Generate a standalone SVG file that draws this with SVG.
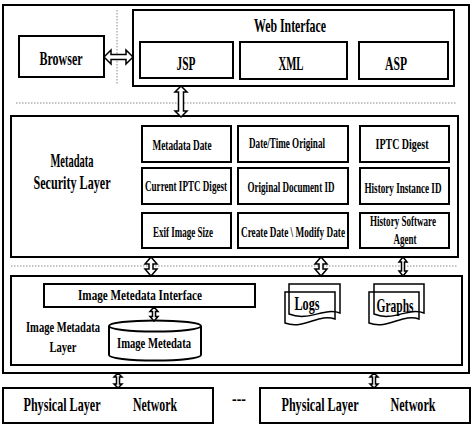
<svg xmlns="http://www.w3.org/2000/svg" width="474" height="431" viewBox="0 0 474 431">
<style>
.box{fill:none;stroke:#000;stroke-width:2}
.thin{fill:none;stroke:#000;stroke-width:1.5}
.dot{fill:none;stroke:#888;stroke-width:1;stroke-dasharray:1.5,1.5}
.arr{fill:#fff;stroke:#000;stroke-width:1.5;stroke-linejoin:miter}
text{font-family:"Liberation Serif","Times New Roman",serif;font-weight:bold;fill:#000;text-anchor:middle}
.big{font-size:18px}
.sm{font-size:15px}
</style>
<rect width="474" height="431" fill="#fff"/>
<g id="frame">
<rect class="box" x="3" y="5" width="466" height="368"/>
<line class="dot" x1="117" y1="10" x2="117" y2="85"/>
<line class="dot" x1="16" y1="103" x2="457" y2="103"/>
<line class="dot" x1="11" y1="266" x2="457" y2="266"/>
</g>
<g id="browser">
<rect class="box" x="19" y="36" width="85" height="41"/>
<text class="big" transform="translate(61,65) scale(0.65,1)" textLength="66.2" lengthAdjust="spacingAndGlyphs">Browser</text>
</g>
<g id="web-interface">
<rect class="box" x="133" y="10" width="321" height="76"/>
<text class="big" transform="translate(290,32) scale(0.65,1)" textLength="110.8" lengthAdjust="spacingAndGlyphs">Web Interface</text>
</g>
<g id="jsp">
<rect class="box" x="140" y="42" width="93" height="36"/>
<text class="big" transform="translate(186,70) scale(0.65,1)" textLength="29.2" lengthAdjust="spacingAndGlyphs">JSP</text>
</g>
<g id="xml">
<rect class="box" x="240" y="42" width="107" height="37"/>
<text class="big" transform="translate(291,70) scale(0.65,1)" textLength="38.5" lengthAdjust="spacingAndGlyphs">XML</text>
</g>
<g id="asp">
<rect class="box" x="359" y="42" width="89" height="37"/>
<text class="big" transform="translate(396,70) scale(0.65,1)" textLength="33.8" lengthAdjust="spacingAndGlyphs">ASP</text>
</g>
<g id="metadata-security-layer">
<rect class="box" x="11" y="116" width="447" height="141"/>
<text class="big" transform="translate(72,167) scale(0.65,1)" textLength="66.2" lengthAdjust="spacingAndGlyphs">Metadata</text>
<text class="big" transform="translate(72,189) scale(0.65,1)" textLength="118.5" lengthAdjust="spacingAndGlyphs">Security Layer</text>
</g>
<g id="metadata-date">
<rect class="box" x="142" y="126" width="89" height="36"/>
<text class="sm" transform="translate(182,150) scale(0.65,1)" textLength="90.8" lengthAdjust="spacingAndGlyphs">Metadata Date</text>
</g>
<g id="current-iptc-digest">
<rect class="box" x="142" y="168" width="89" height="36"/>
<text class="sm" transform="translate(186,191) scale(0.65,1)" textLength="126.2" lengthAdjust="spacingAndGlyphs">Current IPTC Digest</text>
</g>
<g id="exif-image-size">
<rect class="box" x="142" y="213" width="89" height="35"/>
<text class="sm" transform="translate(183,237) scale(0.65,1)" textLength="92.3" lengthAdjust="spacingAndGlyphs">Exif Image Size</text>
</g>
<g id="date-time-original">
<rect class="box" x="238" y="126" width="110" height="36"/>
<text class="sm" transform="translate(287,148) scale(0.65,1)" textLength="116.9" lengthAdjust="spacingAndGlyphs">Date/Time Original</text>
</g>
<g id="original-document-id">
<rect class="box" x="238" y="168" width="110" height="36"/>
<text class="sm" transform="translate(291,192) scale(0.65,1)" textLength="133.8" lengthAdjust="spacingAndGlyphs">Original Document ID</text>
</g>
<g id="create-modify-date">
<rect class="box" x="238" y="213" width="110" height="35"/>
<text class="sm" transform="translate(293,237) scale(0.65,1)" textLength="160" lengthAdjust="spacingAndGlyphs">Create Date \ Modify Date</text>
</g>
<g id="iptc-digest">
<rect class="box" x="360" y="126" width="89" height="36"/>
<text class="sm" transform="translate(402,149) scale(0.65,1)" textLength="81.5" lengthAdjust="spacingAndGlyphs">IPTC Digest</text>
</g>
<g id="history-instance-id">
<rect class="box" x="360" y="168" width="89" height="36"/>
<text class="sm" transform="translate(403,193) scale(0.65,1)" textLength="118.5" lengthAdjust="spacingAndGlyphs">History Instance ID</text>
</g>
<g id="history-software-agent">
<rect class="box" x="360" y="213" width="89" height="35"/>
<text class="sm" transform="translate(403,226) scale(0.65,1)" textLength="101.5" lengthAdjust="spacingAndGlyphs">History Software</text>
<text class="sm" transform="translate(405,244) scale(0.65,1)" textLength="35.4" lengthAdjust="spacingAndGlyphs">Agent</text>
</g>
<g id="image-metadata-layer">
<rect class="box" x="11" y="276" width="451" height="89"/>
<text class="sm" transform="translate(63,332) scale(0.65,1)" textLength="113.8" lengthAdjust="spacingAndGlyphs">Image Metadata</text>
<text class="sm" transform="translate(63,352) scale(0.65,1)" textLength="41.5" lengthAdjust="spacingAndGlyphs">Layer</text>
</g>
<g id="image-metedata-interface">
<rect class="box" x="44" y="284" width="211" height="23"/>
<text class="sm" transform="translate(140,300) scale(0.65,1)" textLength="190.8" lengthAdjust="spacingAndGlyphs">Image Metedata Interface</text>
</g>
<g id="image-metedata">
<path class="box" d="M109,326 A46,5.5 0 0 1 201,326 L201,355 A46,5.5 0 0 1 109,355 Z M109,326 A46,5.5 0 0 0 201,326"/>
<text class="sm" transform="translate(154,348) scale(0.65,1)" textLength="113.8" lengthAdjust="spacingAndGlyphs">Image Metedata</text>
</g>
<g id="logs">
<path class="thin" d="M289,284 H340 V313 C324,307 309,322 289,314 Z"/>
<path class="thin" d="M285,292 H335 V319 C319,313 304,330 285,323 Z"/>
<text class="big" transform="translate(307,310) scale(0.65,1)" textLength="38.5" lengthAdjust="spacingAndGlyphs">Logs</text>
</g>
<g id="graphs">
<path class="thin" d="M374,284 H424 V313 C408,307 393,322 374,314 Z"/>
<path class="thin" d="M369,292 H419 V319 C403,313 388,330 369,323 Z"/>
<text class="big" transform="translate(395,312) scale(0.65,1)" textLength="56.9" lengthAdjust="spacingAndGlyphs">Graphs</text>
</g>
<g id="physical-left">
<rect class="box" x="3" y="388" width="210" height="35"/>
<text class="big" transform="translate(62,411) scale(0.65,1)" textLength="118.5" lengthAdjust="spacingAndGlyphs">Physical Layer</text>
<text class="big" transform="translate(155,411) scale(0.65,1)" textLength="67.7" lengthAdjust="spacingAndGlyphs">Network</text>
</g>
<g id="physical-right">
<rect class="box" x="260" y="388" width="210" height="35"/>
<text class="big" transform="translate(320,411) scale(0.65,1)" textLength="118.5" lengthAdjust="spacingAndGlyphs">Physical Layer</text>
<text class="big" transform="translate(413,411) scale(0.65,1)" textLength="69.2" lengthAdjust="spacingAndGlyphs">Network</text>
</g>
<g id="ellipsis">
<text class="big" transform="translate(239,405) scale(0.65,1)" textLength="21.5" lengthAdjust="spacingAndGlyphs">---</text>
</g>
<g id="connectors">
<path class="arr" d="M104,57 L111,50 L111,54.5 L126,54.5 L126,50 L133,57 L126,64 L126,59.5 L111,59.5 L111,64 Z"/>
<path class="arr" d="M181,86 L187,92 L183.5,92 L183.5,111 L187,111 L181,117 L175,111 L178.5,111 L178.5,92 L175,92 Z"/>
<path class="arr" d="M151,257 L157,264 L153,264 L153,269 L157,269 L151,276 L145,269 L149,269 L149,264 L145,264 Z"/>
<path class="arr" d="M321,257 L327,264 L323,264 L323,269 L327,269 L321,276 L315,269 L319,269 L319,264 L315,264 Z"/>
<path class="arr" d="M403,257 L407,262 L404.5,262 L404.5,271 L407,271 L403,276 L399,271 L401.5,271 L401.5,262 L399,262 Z"/>
<path class="arr" d="M154,307 L158,311.5 L155.5,311.5 L155.5,316.5 L158,316.5 L154,321 L150,316.5 L152.5,316.5 L152.5,311.5 L150,311.5 Z"/>
<path class="arr" d="M118,373 L122,377 L119.5,377 L119.5,384 L122,384 L118,388 L114,384 L116.5,384 L116.5,377 L114,377 Z"/>
<path class="arr" d="M374,373 L378,377 L375.5,377 L375.5,384 L378,384 L374,388 L370,384 L372.5,384 L372.5,377 L370,377 Z"/>
</g>
</svg>
